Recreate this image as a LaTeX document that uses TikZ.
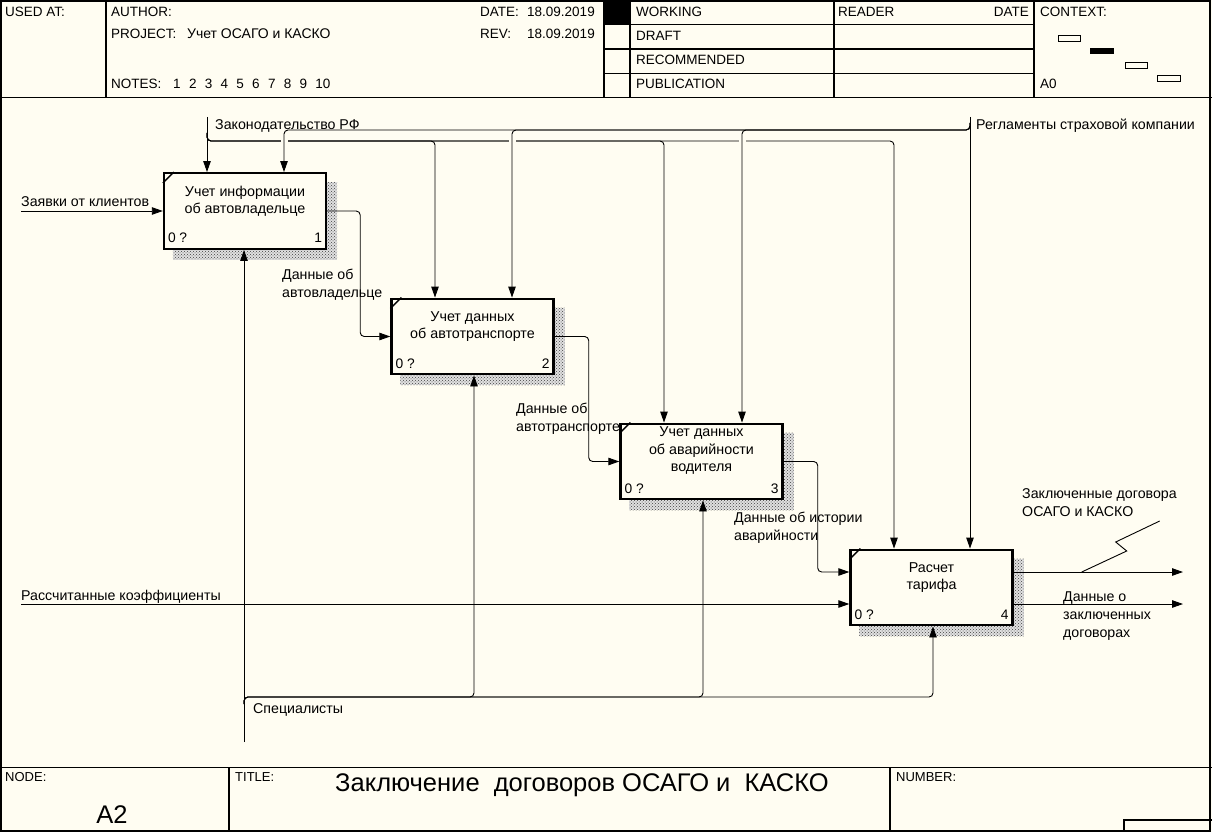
\documentclass[tikz,border=0pt]{standalone}
\usepackage{fontspec}
\setmainfont{Liberation Sans}
\definecolor{idfPaper}{RGB}{255,253,242}
\definecolor{idfInk}  {RGB}{  0,  0,  0}
\usepackage{tikz}
\usetikzlibrary{
  arrows.meta,
  positioning,
  patterns,
  calc,
  backgrounds,
}

\begin{document}
\begin{tikzpicture}[
  x=1pt, y=-1pt,
  >={Triangle[length=11pt,width=7.5pt]},
  func/.style={draw=idfInk, line width=2.4pt, fill=idfPaper, inner sep=0pt,
               minimum width=162pt, minimum height=75.5pt},
  ftext/.style={align=center, inner sep=0pt, text=idfInk,
                font=\fontsize{14.3}{17.5}\selectfont},
  tag/.style={inner sep=0pt, font=\fontsize{13.8}{16}\selectfont},
  flow/.style={->, line width=0.9pt, rounded corners=4pt, color=idfInk},
  lbl/.style={align=left, inner sep=0pt, font=\fontsize{14.2}{18}\selectfont},
  hdr/.style={inner sep=0pt, font=\fontsize{13.5}{16}\selectfont},
  frame/.style={line width=1.1pt, color=idfInk},
]
  \useasboundingbox (0,0) rectangle (1212,832);
  \begin{scope}[on background layer]
    \fill[idfPaper] (0,0) rectangle (1212,832);
  \end{scope}

  % form frame: header and footer
  \draw[line width=1.8pt] (0.9,1) rectangle (1210,831);
  \draw[frame] (0,97.5) -- (1212,97.5);
  \draw[frame] (0,767.5) -- (1212,767.5);
  \foreach \x in {106,604,630,834,1034}
    \draw[frame] (\x,0) -- (\x,97.5);
  \foreach \y in {24.5,49,73.5}
    \draw[frame] (604,\y) -- (1034,\y);
  \fill[idfInk] (604,0) rectangle (630,24.5);
  \draw[frame] (229,767.5) -- (229,832);
  \draw[frame] (890,767.5) -- (890,832);
  \draw[frame] (1124,832) |- (1212,820);

  % context thumbnail
  \draw[line width=0.9pt] (1058,35) rectangle (1080,41);
  \fill[idfInk]           (1090,48) rectangle (1114,54);
  \draw[line width=0.9pt] (1125,62) rectangle (1147,68);
  \draw[line width=0.9pt] (1157,75) rectangle (1180,81);

  % header texts
  \node[hdr, anchor=base west] (usedat)  at (5,17)    {USED AT:};
  \node[hdr, anchor=base west] (author)  at (111,17)  {AUTHOR:};
  \node[hdr, anchor=base west] (project) at (111,39)  {PROJECT:};
  \node[hdr, anchor=base west, font=\fontsize{14}{16}\selectfont] (projnm) at (187,39) {Учет ОСАГО и КАСКО};
  \node[hdr, anchor=base west] (notes)   at (111,89)  {NOTES:};
  \foreach \k in {1,...,10}
    \node[hdr, anchor=base west] (note\k) at ({173+(\k-1)*15.8},89) {\k};
  \node[hdr, anchor=base west] (datek)   at (480,17)  {DATE:};
  \node[hdr, anchor=base west] (datev)   at (527,17)  {18.09.2019};
  \node[hdr, anchor=base west] (revk)    at (480,39)  {REV:};
  \node[hdr, anchor=base west] (revv)    at (527,39)  {18.09.2019};
  \node[hdr, anchor=base west] (working) at (636,17)  {WORKING};
  \node[hdr, anchor=base west] (draft)   at (636,41)  {DRAFT};
  \node[hdr, anchor=base west] (recomm)  at (636,65)  {RECOMMENDED};
  \node[hdr, anchor=base west] (public)  at (636,89)  {PUBLICATION};
  \node[hdr, anchor=base west] (reader)  at (838,17)  {READER};
  \node[hdr, anchor=base east] (rdate)   at (1029,17) {DATE};
  \node[hdr, anchor=base west] (context) at (1040,17) {CONTEXT:};
  \node[hdr, anchor=base west] (ctxnode) at (1040,89) {A0};

  % footer texts
  \node[hdr, anchor=base west, font=\fontsize{13}{15}\selectfont] (nodek)  at (5,781)   {NODE:};
  \node[hdr, anchor=base west, font=\fontsize{13}{15}\selectfont] (titlek) at (235,781) {TITLE:};
  \node[hdr, anchor=base west, font=\fontsize{13}{15}\selectfont] (numk)   at (896,781) {NUMBER:};
  \node[hdr, font=\fontsize{25.5}{28}\selectfont] (nodev) at (112,815) {A2};
  \node[hdr, font=\fontsize{25.5}{28}\selectfont] (title) at (582,785)
    {Заключение\ \ договоров ОСАГО и\ \ КАСКО};

  % activity boxes
  \node[func] (b1) at (245,211)   {};
  \node[func] (b2) at (472.5,336.5) {};
  \node[func] (b3) at (701.5,461.5) {};
  \node[func] (b4) at (931.5,587.5) {};

  \begin{scope}[on background layer]
    \foreach \b in {b1,b2,b3,b4}
      \fill[black!12, postaction={pattern=crosshatch dots, pattern color=black!75}]
        ([xshift=10pt,yshift=-10pt]\b.north west) rectangle
        ([xshift=10pt,yshift=-10pt]\b.south east);
  \end{scope}

  \node[ftext] (t1) at ([yshift=10pt]b1.center) {Учет информации\\об автовладельце};
  \node[ftext] (t2) at ([yshift=10pt]b2.center) {Учет данных\\об автотранспорте};
  \node[ftext] (t3) at ([yshift=10.5pt]b3.center) {Учет данных\\об аварийности\\водителя};
  \node[ftext] (t4) at ([yshift=10pt]b4.center) {Расчет\\тарифа};

  \foreach \b/\n in {b1/1,b2/2,b3/3,b4/4} {
    \draw[line width=1.5pt] ([xshift=11pt]\b.north west) -- ([yshift=-11pt]\b.north west);
    \node[tag, anchor=base west] (\b q) at ([xshift=5pt,yshift=7pt]\b.south west) {0 ?};
    \node[tag, anchor=base east] (\b n) at ([xshift=-5pt,yshift=7pt]\b.south east) {\n};
  }

  % inputs
  \coordinate (reqsrc)  at (21,211);
  \coordinate (coefsrc) at (21,604);
  \draw[flow] (reqsrc) -- (b1.west);
  \draw[flow] (coefsrc) -- (coefsrc -| b4.west);

  % box to box
  \draw[flow] (b1.east) -- ++(33,0) |- (b2.west);
  \draw[flow] (b2.east) -- ++(34,0) |- (b3.west);
  \draw[flow] (b3.east) -- ++(34,0) |- ([yshift=15.5pt]b4.west);

  % outputs
  \coordinate (dealsink) at (1183,572);
  \coordinate (datasink) at (1183,604);
  \draw[flow] (b4.east |- dealsink) -- (dealsink);
  \draw[flow] (b4.east |- datasink) -- (datasink);
  \draw[line width=0.9pt] ($(b4.east |- dealsink)+(68,0)$)
    -- ++(45,-21) -- ++(-11,-9) -- ++(44,-21);

  % controls
  \coordinate (lawsrc) at (207,117);
  \coordinate (regsrc) at (970,117);
  \draw[flow] (lawsrc) -- (lawsrc |- b1.north);
  \draw[flow] (regsrc) -- (regsrc |- b4.north);
  \foreach \b/\x in {b2/435,b3/664,b4/894}
    \draw[flow] (lawsrc) ++(0,16) |- (\x,141) -- (\x,141 |- \b.north);
  \foreach \x in {284,512,742}
    \fill[idfPaper] (\x-3.5,137) rectangle (\x+3.5,145);
  \foreach \b/\x in {b1/284,b2/512,b3/742}
    \draw[flow] (regsrc) ++(0,6) |- (\x,130) -- (\x,130 |- \b.north);

  % mechanisms
  \coordinate (stafsrc) at (244,742);
  \draw[flow] (stafsrc) -- (stafsrc |- b1.south);
  \foreach \b/\x in {b2/474,b3/703,b4/933}
    \draw[flow] (stafsrc) ++(0,-38) |- (\x,697) -- (\x,697 |- \b.south);

  % arrow labels (base = last line)
  \node[lbl, anchor=base west] (reqtxt)  at (21,206)   {Заявки от клиентов};
  \node[lbl, anchor=base west] (lawtxt)  at (215,130)  {Законодательство РФ};
  \node[lbl, anchor=base west] (regtxt)  at (976,130)  {Регламенты страховой компании};
  \node[lbl, anchor=base west] (owntxt)  at (282,297)  {Данные об\\автовладельце};
  \node[lbl, anchor=base west] (vehtxt)  at (516,431)  {Данные об\\автотранспорте};
  \node[lbl, anchor=base west] (acctxt)  at (734,540)  {Данные об истории\\аварийности};
  \node[lbl, anchor=base west] (coeftxt) at (21,600)   {Рассчитанные коэффициенты};
  \node[lbl, anchor=base west] (dealtxt) at (1022,516) {Заключенные договора\\ОСАГО и КАСКО};
  \node[lbl, anchor=base west] (datatxt) at (1063,637) {Данные о\\заключенных\\договорах};
  \node[lbl, anchor=base west] (stftxt)  at (253,713)  {Специалисты};
\end{tikzpicture}
\end{document}
